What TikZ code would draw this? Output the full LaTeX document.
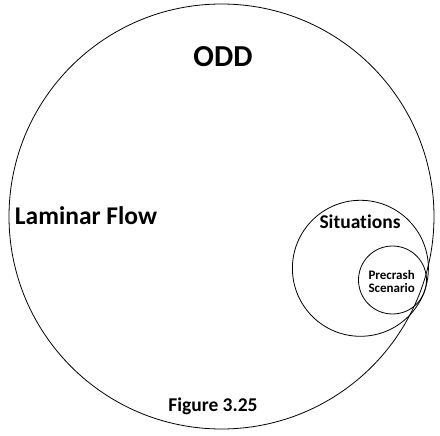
\documentclass[tikz,border=0pt]{standalone}
\usepackage{fontspec}
\setmainfont[Ligatures=NoCommon]{Carlito}
\usetikzlibrary{positioning}
\newcommand{\rnode}[3]{\node [ring, minimum size=#3] (#1) at (#2) {}}
\newcommand{\tnode}[4]{\node [font=\bfseries\fontsize{#3}{#3}\selectfont, align=center] (#1) at (#2) {#4}}

\begin{document}
\begin{tikzpicture}[x=1pt, y=-1pt, ring/.style={circle, draw, line width=0.8pt, inner sep=0pt}]
\useasboundingbox (0,0) rectangle (440,436);

\rnode{ODDC}{221.5,216.5}{425pt};
\rnode{SITC}{360.4,268.3}{136pt};
\rnode{PREC}{392.5,280}{68pt};

\tnode{ODD}{223,57}{30.5}{ODD};
\tnode{LAM}{86,216}{25.5}{Laminar Flow};
\tnode{SIT}{360,222}{19.5}{Situations};
\tnode{PRE}{391.7,281}{13}{\baselineskip=15pt Precrash\\Scenario};
\tnode{FIG}{213,406}{19.5}{Figure 3.25};

\end{tikzpicture}
\end{document}
